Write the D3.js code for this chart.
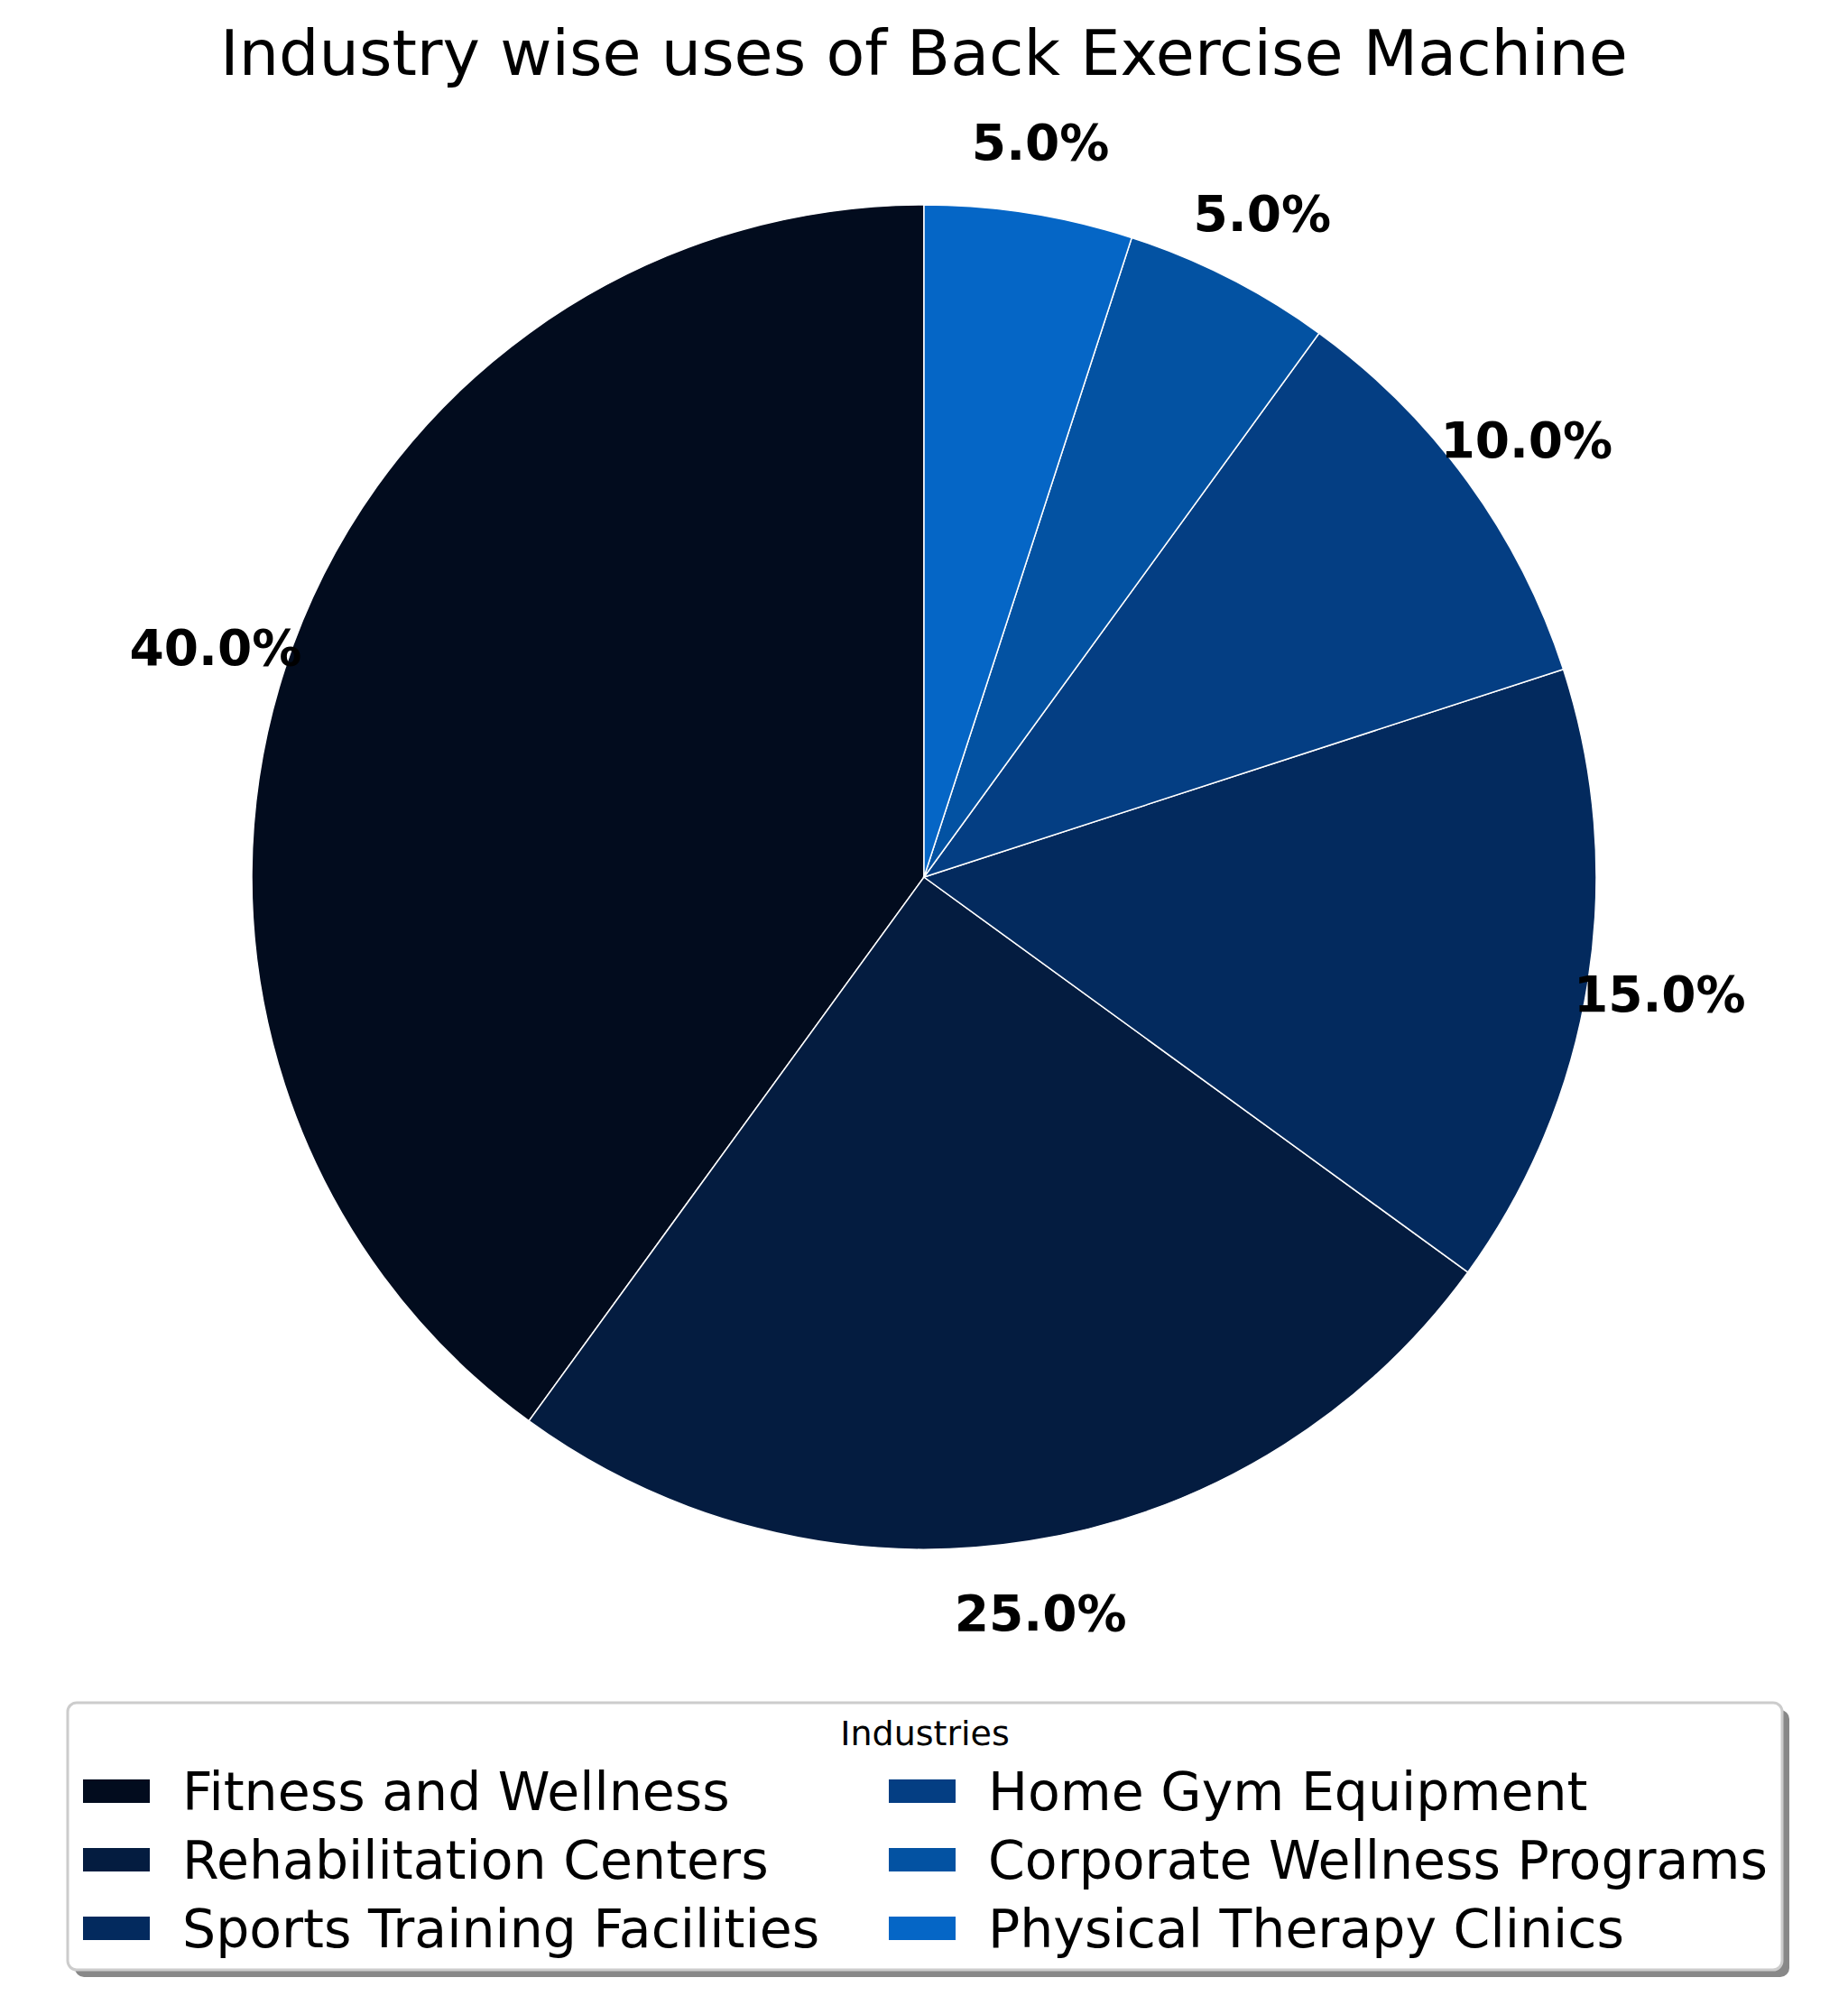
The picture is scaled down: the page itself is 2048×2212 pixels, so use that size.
<!DOCTYPE html>
<html>
<head>
<meta charset='utf-8' />
<title>Industry wise uses of Back Exercise Machine</title>
<script src="https://d3js.org/d3.v7.min.js"></script>
<style>
body { margin: 0; padding: 0; background: #fff; }
text { font-family: 'DejaVu Sans', sans-serif; }
</style>
</head>
<body>
<div id='chart'></div>
<script>

// data
var industries = ["Fitness and Wellness", "Rehabilitation Centers", "Sports Training Facilities",
                  "Home Gym Equipment", "Corporate Wellness Programs", "Physical Therapy Clinics"];
var shares = [40, 25, 15, 10, 5, 5];
var colours = ["#020c1e", "#041c40", "#032a5e", "#043e83", "#0352a2", "#0566c6"];

var W = 2048, H = 2212;
var cx = 1024, cy = 972, r = 745;

var svg = d3.select("#chart")
  .append("svg")
    .attr("width", W)
    .attr("height", H);

svg.append("rect").attr("width", W).attr("height", H).attr("fill", "#fff");

// title
svg.append("text")
    .attr("x", W / 2)
    .attr("y", 83)
    .attr("text-anchor", "middle")
    .style("font-size", "70px")
    .text("Industry wise uses of Back Exercise Machine");

var color = d3.scaleOrdinal().domain(industries).range(colours);

// matplotlib style: start at top, counter clockwise
var pie = d3.pie()
    .sort(null)
    .value(function(d) { return d.v; })
    .startAngle(0)
    .endAngle(-2 * Math.PI);

var data = industries.map(function(n, i) { return {name: n, v: shares[i]}; });
var arcs = pie(data);

var arc = d3.arc().innerRadius(0).outerRadius(r);

var g = svg.append("g").attr("transform", "translate(" + cx + "," + cy + ")");

g.selectAll("path")
  .data(arcs)
  .enter()
  .append("path")
    .attr("d", arc)
    .attr("fill", function(d) { return color(d.data.name); })
    .attr("stroke", "#fff")
    .attr("stroke-width", 1.5);

var total = d3.sum(shares);
var labelArc = d3.arc().innerRadius(r * 1.108).outerRadius(r * 1.108);

g.selectAll("text.pct")
  .data(arcs)
  .enter()
  .append("text")
    .attr("class", "pct")
    .attr("transform", function(d) { return "translate(" + labelArc.centroid(d) + ")"; })
    .attr("text-anchor", "middle")
    .attr("dy", "0.36em")
    .style("font-size", "55px")
    .style("font-weight", "bold")
    .text(function(d) { return (d.data.v / total * 100).toFixed(1) + "%"; });

//////////
// LEGEND //
//////////

var lx = 75, ly = 1887, lw = 1900, lh = 296;

svg.append("rect")
    .attr("x", lx + 8).attr("y", ly + 8)
    .attr("width", lw).attr("height", lh)
    .attr("rx", 10)
    .attr("fill", "#888");

svg.append("rect")
    .attr("x", lx).attr("y", ly)
    .attr("width", lw).attr("height", lh)
    .attr("rx", 10)
    .attr("fill", "#fff")
    .attr("stroke", "#ccc")
    .attr("stroke-width", 3);

svg.append("text")
    .attr("x", lx + lw / 2)
    .attr("y", 1920)
    .attr("dy", "0.36em")
    .attr("text-anchor", "middle")
    .style("font-size", "38px")
    .text("Industries");

var colX = [92, 985], rowY = [1985, 2061, 2137];

var items = svg.selectAll("g.item")
  .data(industries)
  .enter()
  .append("g")
    .attr("class", "item")
    .attr("transform", function(d, i) {
      return "translate(" + colX[Math.floor(i / 3)] + "," + rowY[i % 3] + ")";
    });

items.append("rect")
    .attr("x", 0).attr("y", -13)
    .attr("width", 74).attr("height", 26)
    .attr("fill", function(d) { return color(d); });

items.append("text")
    .attr("x", 110)
    .attr("dy", "0.36em")
    .style("font-size", "58.5px")
    .text(function(d) { return d; });

</script>
</body>
</html>
